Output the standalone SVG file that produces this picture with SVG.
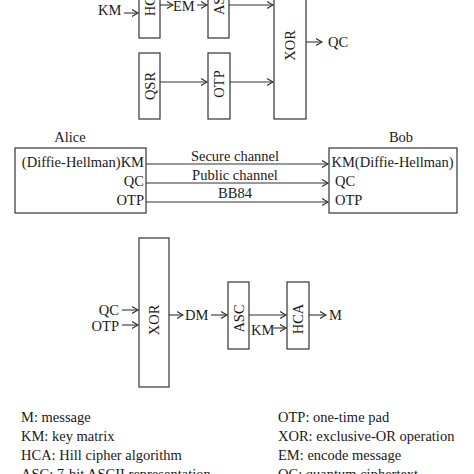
<svg xmlns="http://www.w3.org/2000/svg" width="474" height="474" viewBox="0 0 474 474">
<style>
text{font-family:"Liberation Serif","Times New Roman",serif;font-size:14.5px;fill:#1a1a1a}
.box{fill:#fff;stroke:#333;stroke-width:1.2}
.ln{fill:none;stroke:#333;stroke-width:1.1}
.m{text-anchor:middle}
.e{text-anchor:end}
</style>
<defs>
<marker id="ah" markerUnits="userSpaceOnUse" markerWidth="10" markerHeight="10" refX="6.5" refY="4" orient="auto">
<path d="M0.5,0.5 L6.5,4 L0.5,7.5" fill="none" stroke="#333" stroke-width="1.1"/>
</marker>
</defs>
<rect width="474" height="474" fill="#fff"/>

<g id="connectors">
<line class="ln" x1="124" y1="13" x2="138" y2="13" marker-end="url(#ah)"/>
<line class="ln" x1="160" y1="5" x2="173" y2="5" marker-end="url(#ah)"/>
<line class="ln" x1="197" y1="5" x2="207" y2="5" marker-end="url(#ah)"/>
<line class="ln" x1="229" y1="5" x2="273" y2="5" marker-end="url(#ah)"/>
<line class="ln" x1="160" y1="82" x2="207" y2="82" marker-end="url(#ah)"/>
<line class="ln" x1="230" y1="82" x2="273" y2="82" marker-end="url(#ah)"/>
<line class="ln" x1="306" y1="42" x2="322" y2="42" marker-end="url(#ah)"/>
<line class="ln" x1="146" y1="164" x2="328" y2="164" marker-end="url(#ah)"/>
<line class="ln" x1="146" y1="183" x2="328" y2="183" marker-end="url(#ah)"/>
<line class="ln" x1="146" y1="202" x2="328" y2="202" marker-end="url(#ah)"/>
<line class="ln" x1="122" y1="310" x2="138" y2="310" marker-end="url(#ah)"/>
<line class="ln" x1="122" y1="325" x2="138" y2="325" marker-end="url(#ah)"/>
<line class="ln" x1="169" y1="315" x2="183" y2="315" marker-end="url(#ah)"/>
<line class="ln" x1="211" y1="315" x2="227" y2="315" marker-end="url(#ah)"/>
<line class="ln" x1="249" y1="315" x2="286" y2="315" marker-end="url(#ah)"/>
<line class="ln" x1="273" y1="328" x2="286" y2="328" marker-end="url(#ah)"/>
<line class="ln" x1="309" y1="315" x2="326" y2="315" marker-end="url(#ah)"/>
</g>

<g id="km-in"><text x="98" y="15">KM</text></g>
<g id="hca-enc"><rect class="box" x="139" y="-40" width="21" height="78"/><text class="m" transform="translate(149.5,1) rotate(-90)" y="5">HCA</text></g>
<g id="em"><text x="173" y="10.5">EM</text></g>
<g id="asc-enc"><rect class="box" x="208" y="-40" width="21" height="78"/><text class="m" transform="translate(218.5,1) rotate(-90)" y="5">ASC</text></g>
<g id="qsr"><rect class="box" x="139" y="53" width="21" height="66"/><text class="m" transform="translate(149.5,86) rotate(-90)" y="5">QSR</text></g>
<g id="otp-enc"><rect class="box" x="208" y="53" width="22" height="66"/><text class="m" transform="translate(219,84) rotate(-90)" y="5">OTP</text></g>
<g id="xor-enc"><rect class="box" x="274" y="-40" width="32" height="159"/><text class="m" transform="translate(290,45.5) rotate(-90)" y="5">XOR</text></g>
<g id="qc-out"><text x="328" y="47">QC</text></g>

<g id="alice">
<text class="m" x="70" y="142">Alice</text>
<rect class="box" x="15" y="148" width="131" height="65"/>
<text class="e" x="144" y="167">(Diffie-Hellman)KM</text>
<text class="e" x="144" y="186">QC</text>
<text class="e" x="144" y="205">OTP</text>
</g>
<g id="bob">
<text class="m" x="401" y="142">Bob</text>
<rect class="box" x="329" y="148" width="128" height="65"/>
<text x="331.5" y="167">KM(Diffie-Hellman)</text>
<text x="335" y="186">QC</text>
<text x="335" y="205">OTP</text>
</g>
<g id="channel-labels">
<text class="m" x="235" y="161">Secure channel</text>
<text class="m" x="235" y="179.5">Public channel</text>
<text class="m" x="235" y="198">BB84</text>
</g>

<g id="qc-in"><text class="e" x="119" y="315">QC</text></g>
<g id="otp-in"><text class="e" x="119" y="331">OTP</text></g>
<g id="xor-dec"><rect class="box" x="139" y="238" width="30" height="149"/><text class="m" transform="translate(154,320) rotate(-90)" y="5">XOR</text></g>
<g id="dm"><text x="185" y="320">DM</text></g>
<g id="asc-dec"><rect class="box" x="228" y="282" width="21" height="67"/><text class="m" transform="translate(238.5,318.5) rotate(-90)" y="5">ASC</text></g>
<g id="km-dec"><text x="251" y="335">KM</text></g>
<g id="hca-dec"><rect class="box" x="287" y="282" width="22" height="67"/><text class="m" transform="translate(298,319) rotate(-90)" y="5">HCA</text></g>
<g id="m-out"><text x="329" y="320">M</text></g>

<g id="legend">
<text x="21" y="422">M: message</text>
<text x="21" y="441">KM: key matrix</text>
<text x="21" y="460">HCA: Hill cipher algorithm</text>
<text x="21" y="478.5">ASC: 7-bit ASCII representation</text>
<text x="278" y="422">OTP: one-time pad</text>
<text x="278" y="441">XOR: exclusive-OR operation</text>
<text x="278" y="460">EM: encode message</text>
<text x="278" y="478.5">QC: quantum ciphertext</text>
</g>
</svg>
